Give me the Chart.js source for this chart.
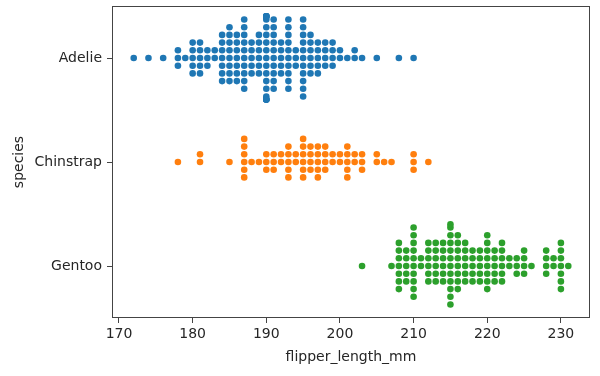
<!DOCTYPE html>
<html>
<head>
<meta charset="utf-8">
<script src="https://cdn.jsdelivr.net/npm/chart.js@4/dist/chart.umd.min.js"></script>
<style>
    html, body { margin: 0; padding: 0; background: #fff; }
    #wrap { width: 600px; height: 376px; }
</style>
</head>
<body>
<div id="wrap"><canvas id="swarmChart" width="600" height="376"></canvas></div>
<script>
const species = ['Adelie', 'Chinstrap', 'Gentoo'];

const adelie = [181, 186, 195, 193, 190, 181, 195, 193, 190, 186, 180, 182, 191, 198, 185, 195, 197, 184, 194, 174,
    180, 189, 185, 180, 187, 183, 187, 172, 180, 178, 178, 188, 184, 195, 196, 190, 180, 181, 184, 182,
    195, 186, 196, 185, 190, 182, 179, 190, 191, 186, 188, 190, 200, 187, 191, 186, 193, 181, 194, 185,
    195, 185, 192, 184, 192, 195, 188, 190, 198, 190, 190, 196, 197, 190, 195, 191, 184, 187, 195, 189,
    196, 187, 193, 191, 194, 190, 189, 189, 190, 202, 205, 185, 186, 187, 208, 190, 196, 178, 192, 192,
    203, 183, 190, 193, 184, 199, 190, 181, 197, 198, 191, 193, 197, 191, 196, 188, 199, 189, 189, 187,
    198, 176, 202, 186, 199, 191, 195, 191, 210, 190, 197, 193, 199, 187, 190, 191, 200, 185, 193, 193,
    187, 188, 190, 192, 185, 190, 184, 195, 193, 187, 201];

const chinstrap = [192, 196, 193, 188, 197, 198, 178, 197, 195, 198, 193, 194, 185, 201, 190, 201, 197, 181, 190, 195,
    181, 191, 187, 193, 195, 197, 200, 200, 191, 205, 187, 201, 187, 203, 195, 199, 195, 210, 192, 205,
    210, 187, 196, 196, 196, 201, 190, 212, 187, 198, 199, 201, 193, 203, 187, 197, 191, 203, 202, 194,
    206, 189, 195, 207, 202, 193, 210, 198];

const gentoo = [211, 230, 210, 218, 215, 210, 211, 219, 209, 215, 214, 216, 214, 213, 210, 217, 210, 221, 209, 222,
    218, 215, 213, 215, 215, 215, 216, 215, 210, 220, 222, 209, 207, 230, 220, 220, 213, 219, 208, 208,
    208, 225, 210, 216, 222, 217, 210, 225, 213, 215, 210, 220, 210, 225, 217, 220, 208, 220, 208, 224,
    208, 221, 214, 231, 219, 230, 214, 229, 220, 223, 216, 221, 221, 217, 216, 230, 209, 220, 215, 223,
    212, 221, 212, 224, 212, 228, 218, 218, 212, 230, 218, 228, 212, 224, 214, 226, 216, 222, 203, 225,
    219, 228, 215, 228, 216, 215, 210, 219, 208, 209, 216, 229, 213, 230, 217, 230, 217, 222, 214, 215,
    222, 212, 213];

const xTicks = [170, 180, 190, 200, 210, 220, 230];
const colors = ['#1f77b4', '#ff7f0e', '#2ca02c'];
const groups = [adelie, chinstrap, gentoo];

const textColor = '#262626';
const fontSize = 14;
const markerDiameter = 7.33;   // px, used for the swarm layout

// full box round the plot area, like matplotlib spines
const framePlugin = {
    id: 'frame',
    afterDraw(chart) {
        const a = chart.chartArea;
        const c = chart.ctx;
        c.save();
        c.strokeStyle = '#444';
        c.lineWidth = 1;
        c.strokeRect(Math.round(a.left) + 0.5, Math.round(a.top) + 0.5,
            Math.round(a.right - a.left) - 1, Math.round(a.bottom - a.top) - 1);
        c.restore();
    }
};

const ctx = document.getElementById('swarmChart').getContext('2d');
const chart = new Chart(ctx, {
    type: 'scatter',
    data: {
        datasets: groups.map((vals, k) => ({
            label: species[k],
            data: vals.map(v => ({ x: v, y: k })),
            backgroundColor: colors[k],
            borderWidth: 0,
            pointRadius: 3.3,
            pointHoverRadius: 3.3
        }))
    },
    options: {
        responsive: false,
        animation: false,
        layout: {
            padding: { top: 6, right: 10, left: 0, bottom: 0 }
        },
        scales: {
            x: {
                type: 'linear',
                min: 169.05,
                max: 233.95,
                afterBuildTicks: (scale) => { scale.ticks = xTicks.map(v => ({ value: v })); },
                afterFit: (scale) => {
                    scale.height = 58;
                    scale.paddingLeft = 0;
                    scale.paddingRight = 0;
                },
                grid: {
                    drawOnChartArea: false,
                    drawTicks: true,
                    tickLength: 5,
                    tickColor: '#444'
                },
                border: { display: false },
                ticks: {
                    padding: 3,
                    color: textColor,
                    maxRotation: 0,
                    font: { family: 'DejaVu Sans', size: fontSize }
                },
                title: {
                    display: true,
                    text: 'flipper_length_mm',
                    color: textColor,
                    padding: { top: 0, bottom: 10 },
                    font: { family: 'DejaVu Sans', size: fontSize }
                }
            },
            y: {
                type: 'linear',
                reverse: true,
                min: -0.5,
                max: 2.5,
                afterBuildTicks: (scale) => { scale.ticks = species.map((s, i) => ({ value: i })); },
                afterFit: (scale) => {
                    scale.width = 112;
                    scale.paddingTop = 0;
                    scale.paddingBottom = 0;
                },
                grid: {
                    drawOnChartArea: false,
                    drawTicks: true,
                    tickLength: 5,
                    tickColor: '#444'
                },
                border: { display: false },
                ticks: {
                    padding: 5,
                    color: textColor,
                    font: { family: 'DejaVu Sans', size: fontSize },
                    callback: (v) => species[v]
                },
                title: {
                    display: true,
                    text: 'species',
                    color: textColor,
                    padding: { top: 11, bottom: 0 },
                    font: { family: 'DejaVu Sans', size: fontSize }
                }
            }
        },
        plugins: {
            legend: { display: false },
            tooltip: { enabled: false }
        }
    },
    plugins: [framePlugin]
});

// beeswarm placement in pixel space, then clipped to the category width
function swarmOffsets(values) {
    const xs = chart.scales.x;
    const ys = chart.scales.y;
    const catPx = Math.abs(ys.getPixelForValue(1) - ys.getPixelForValue(0));
    const d = markerDiameter;
    const order = values.map((v, i) => i).sort((a, b) => values[a] - values[b]);
    const placed = [];
    const offs = new Array(values.length);

    order.forEach(i => {
        const x = xs.getPixelForValue(values[i]);
        const nb = placed.filter(p => Math.abs(p.x - x) < d);
        const cands = [0];
        nb.forEach(p => {
            const dy = Math.sqrt(d * d - (p.x - x) ** 2) * 1.05;
            cands.push(p.y - dy, p.y + dy);
        });
        cands.sort((a, b) => (Math.abs(a) - Math.abs(b)) || (a - b));
        const y = cands.find(c => nb.every(p => Math.hypot(p.x - x, p.y - c) >= d - 1e-6));
        placed.push({ x: x, y: y });
        offs[i] = y;
    });

    const gutter = 0.4 * catPx;
    return offs.map(o => Math.max(-gutter, Math.min(gutter, o)) / catPx);
}

groups.forEach((vals, k) => {
    const offs = swarmOffsets(vals);
    chart.data.datasets[k].data = vals.map((v, i) => ({ x: v, y: k + offs[i] }));
});
chart.update('none');
</script>
</body>
</html>
